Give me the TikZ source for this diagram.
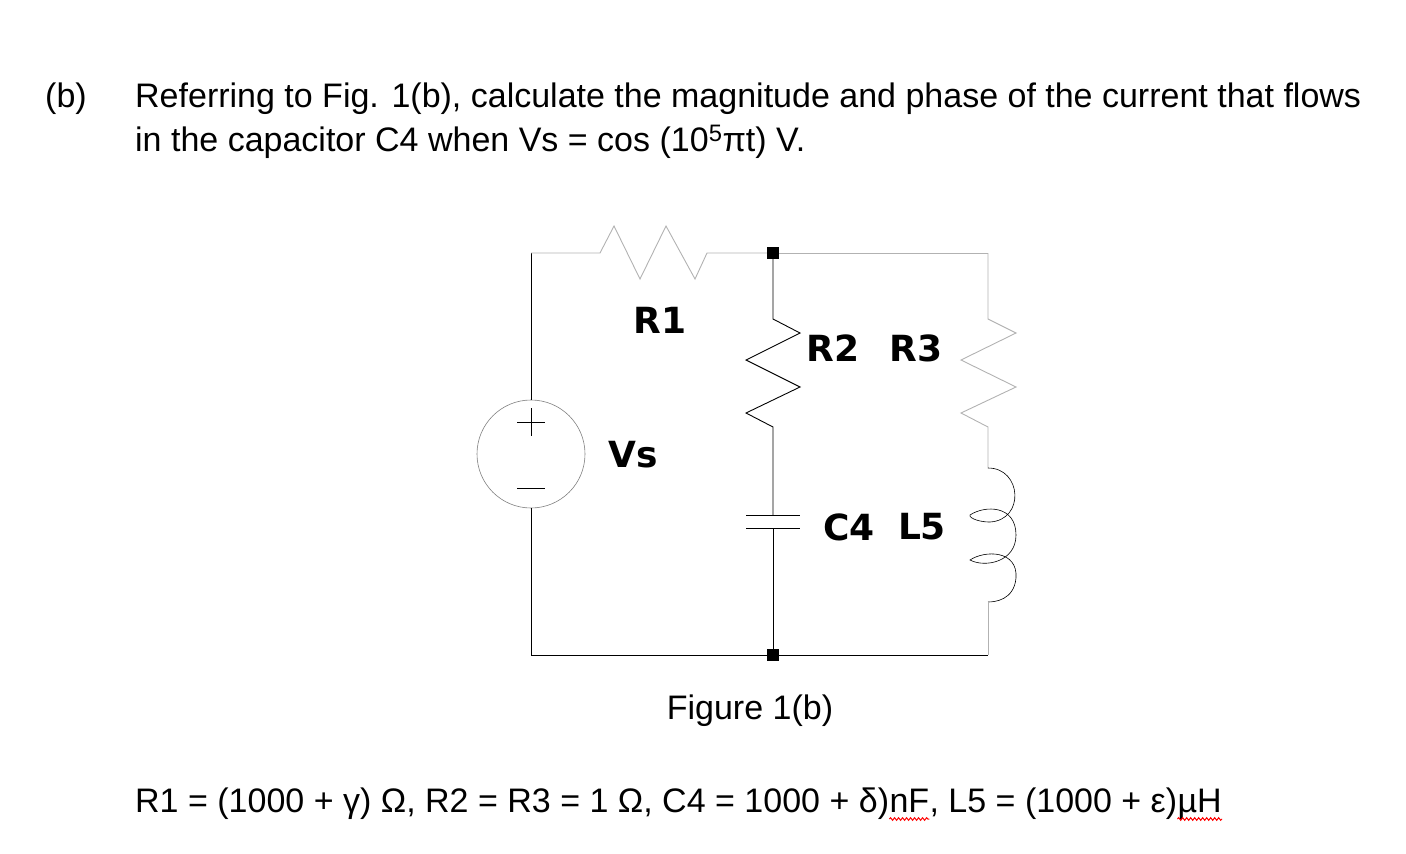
\documentclass[tikz,border=0pt]{standalone}
\usepackage{fontspec}
\setmainfont{Liberation Sans}
\newfontfamily\lbl{DejaVu Sans}
\usetikzlibrary{decorations.pathmorphing}
\begin{document}
\begin{tikzpicture}[x=1pt,y=-1pt,
  txt/.style={anchor=base west,inner sep=0,font=\fontsize{34}{40}\selectfont},
  lab/.style={inner sep=0,font=\lbl\bfseries\fontsize{36}{40}\selectfont},
  w/.style={line width=0.9pt,black},
  gw/.style={line width=0.9pt,gray!60},
  junc/.style={fill=black,minimum size=12pt,inner sep=0},
  squig/.style={red,line width=1pt,decorate,decoration={snake,amplitude=1.3pt,segment length=4pt}}]
\useasboundingbox (0,0) rectangle (1406,854);
\node[txt] (b) at (45,107) {(b)};
\node[txt] (l1) at (135,107) {Referring to Fig. 1(b), calculate the magnitude and phase of the current that flows};
\node[txt] (l2) at (135,151) {in the capacitor C4 when Vs = cos (10\textsuperscript{5}πt) V.};
\node[txt,anchor=base] (fig) at (750,719) {Figure 1(b)};
\node[txt] (l3a) at (135,812) {R1 = (1000 + γ) Ω, R2 = R3 = 1 Ω, C4 = 1000 + δ)\ };
\node[txt] (nf) at (l3a.base east) {nF};
\node[txt] (l3b) at (nf.base east) {, L5 = (1000 + ε)\ };
\node[txt] (uh) at (l3b.base east) {µH};
\draw[squig] ([yshift=-7]nf.base west) -- ([yshift=-7]nf.base east);
\draw[squig] ([yshift=-7]uh.base west) -- ([yshift=-7]uh.base east);
% circuit
\node[junc] (jt) at (773,253) {};
\node[junc] (jb) at (773,655) {};
\node[circle,draw,gray,line width=0.6pt,minimum size=108pt,inner sep=0] (vs) at (531,454) {};
\draw[w] (vs.north) -- (531,253) coordinate (tl);
\draw[gw] (tl) -- (600,253) -- (614,226) -- (640,279) -- (666,226) -- (695,279) -- (707,253) -- (jt);
\draw[w] (vs.south) -- (531,655) -- (jb);
\draw[w] (jb) -- (988,655) coordinate (br);
\draw[gw] (jt) -- (988,253) coordinate (tr);
\draw[w] (517,422) -- (545,422) (531,408) -- (531,436);
\draw[w] (517,488) -- (545,488);
% R2 + C4
\draw[w] (jt) -- (773,319) -- (800,333) -- (746,360) -- (800,387) -- (746,413) -- (773,427) -- (773,515);
\draw[w] (746,515) -- (800,515) (746,528) -- (800,528);
\draw[w] (773,528) -- (jb);
% R3 + L5
\draw[gw] (tr) -- (988,319) -- (1016,333) -- (961,360) -- (1016,387) -- (961,413) -- (988,427) -- (988,468);
\draw[w,line width=0.6pt] (988,468) .. controls (1022,468) and (1025,520) .. (990,522) .. controls (975,522) and (968,516) .. (970,515)
  .. controls (985,505) and (1016,505) .. (1016,535) .. controls (1016,562) and (985,568) .. (970,560)
  .. controls (985,550) and (1018,550) .. (1016,578) .. controls (1014,600) and (995,602) .. (988,602);
\draw[gw] (988,602) -- (br);
\node[lab] (r1) at (660,320) {R1};
\node[lab] (r2) at (833,348) {R2};
\node[lab] (r3) at (916,348) {R3};
\node[lab] (v) at (633,455) {Vs};
\node[lab] (c4) at (849,527) {C4};
\node[lab] (l5) at (922,527) {L5};
\end{tikzpicture}
\end{document}
